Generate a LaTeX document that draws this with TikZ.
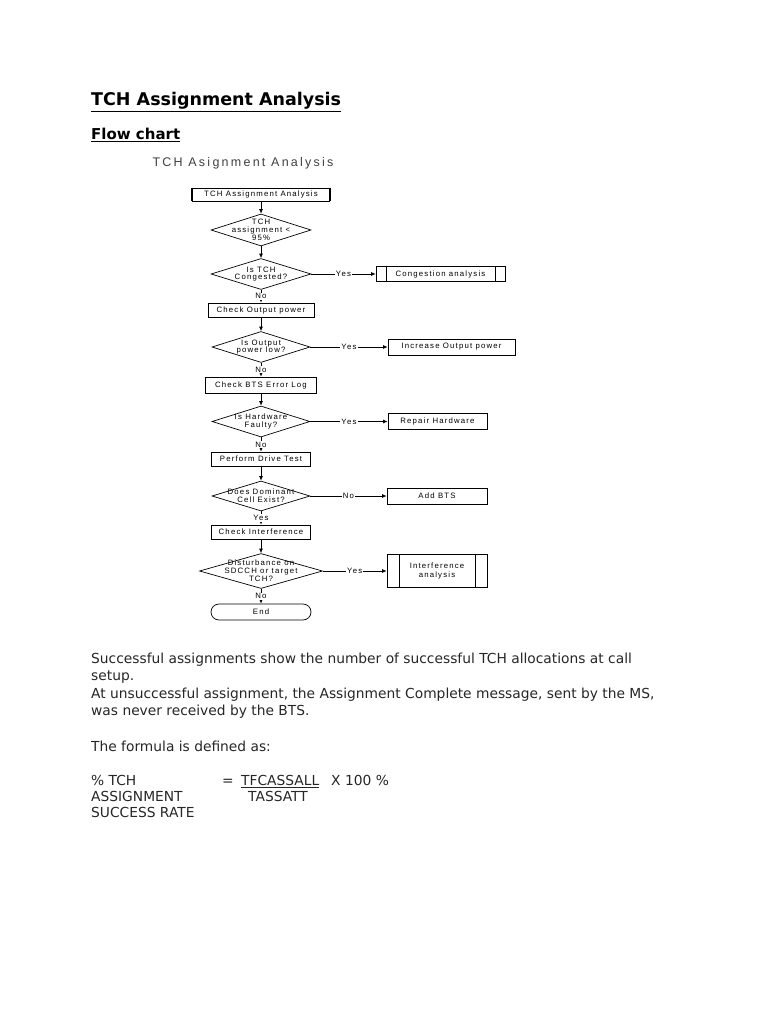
\documentclass[tikz,border=0pt]{standalone}
\usepackage{fontspec}
\setmainfont{DejaVu Sans}
\newfontfamily\chartfont[LetterSpace=15]{Liberation Sans}
\newfontfamily\charttitlefont[LetterSpace=18]{Liberation Sans}
\usepackage{tikz}
\usetikzlibrary{arrows.meta,shapes.geometric,shapes.misc}

\begin{document}
\begin{tikzpicture}[x=1pt, y=-1pt,
  procbox/.style={draw, line width=0.7pt, inner sep=0pt,
    font=\chartfont\fontsize{7.8}{8.4}\selectfont, align=center},
  decision/.style={draw, diamond, line width=0.7pt, inner sep=0pt},
  dectext/.style={inner sep=0pt, font=\chartfont\fontsize{7.8}{7.8}\selectfont, align=center},
  termbox/.style={draw, rounded rectangle, line width=0.7pt, inner sep=0pt,
    minimum width=100pt, minimum height=16pt, font=\chartfont\fontsize{7.8}{8.4}\selectfont},
  flow/.style={-{Latex[length=4.5pt,width=4pt]}, line width=0.7pt},
  yesno/.style={fill=white, inner sep=1pt, font=\chartfont\fontsize{7.8}{8.4}\selectfont},
  bodytext/.style={anchor=base west, inner sep=0pt, text=black!85,
    font=\fontsize{13.8}{17.5}\selectfont}]

\useasboundingbox (0,0) rectangle (768,1024);

% Headings
\node[anchor=base west, inner sep=0pt, font=\bfseries\fontsize{17.5}{20}\selectfont]
  (heading) at (91,106) {\underline{TCH Assignment Analysis}};
\node[anchor=base west, inner sep=0pt, font=\bfseries\fontsize{15}{18}\selectfont]
  (subheading) at (91,140) {\underline{Flow chart}};
\node[inner sep=0pt, text=black!75, font=\charttitlefont\fontsize{12.5}{14}\selectfont]
  (charttitle) at (243,163) {TCH Asignment Analysis};

% Start
\node[procbox, minimum width=137pt, minimum height=13pt] (start) at (261,194.5)
  {TCH Assignment Analysis};
\draw[line width=1.6pt] (start.north west) -- (start.south west);
\draw[line width=1.6pt] (start.north east) -- (start.south east);

% Decision 1
\node[decision, minimum width=100pt, minimum height=32pt,
  label={[dectext]center:{TCH\\assignment <\\95\%}}] (d1) at (261,230) {};

% Decision 2
\node[decision, minimum width=100pt, minimum height=31pt,
  label={[dectext]center:{Is TCH\\Congested?}}] (d2) at (261,274) {};
\node[procbox, minimum width=129pt, minimum height=15pt] (cong) at (440.5,274)
  {Congestion analysis};
\draw[line width=0.7pt] ([xshift=11pt]cong.north west) -- ([xshift=11pt]cong.south west);
\draw[line width=0.7pt] ([xshift=-10pt]cong.north east) -- ([xshift=-10pt]cong.south east);
\draw[line width=1.6pt] (cong.north east) -- (cong.south east);

% Output power
\node[procbox, minimum width=106pt, minimum height=14pt] (outpow) at (261,310)
  {Check Output power};
\node[decision, minimum width=98pt, minimum height=31pt,
  label={[dectext]center:{Is Output\\power low?}}] (d3) at (261,347) {};
\node[procbox, minimum width=127pt, minimum height=16pt] (incpow) at (451.5,347)
  {Increase Output power};

% Hardware
\node[procbox, minimum width=111pt, minimum height=16pt] (errlog) at (261,385)
  {Check BTS Error Log};
\node[decision, minimum width=98pt, minimum height=31pt,
  label={[dectext]center:{Is Hardware\\Faulty?}}] (d4) at (261,421.5) {};
\node[procbox, minimum width=99pt, minimum height=16pt] (repair) at (437.5,421.5)
  {Repair Hardware};

% Drive test
\node[procbox, minimum width=99pt, minimum height=14pt] (drive) at (261,459)
  {Perform Drive Test};
\node[decision, minimum width=98pt, minimum height=30pt,
  label={[dectext]center:{Does Dominant\\Cell Exist?}}] (d5) at (261,496) {};
\node[procbox, minimum width=100pt, minimum height=16pt] (addbts) at (437,496)
  {Add BTS};

% Interference
\node[procbox, minimum width=99pt, minimum height=14pt] (interf) at (261,532)
  {Check Interference};
\node[decision, minimum width=123pt, minimum height=35pt,
  label={[dectext]center:{Disturbance on\\SDCCH or target\\TCH?}}] (d6) at (261,571) {};
\node[procbox, minimum width=100pt, minimum height=33pt] (intana) at (437,571)
  {Interference\\analysis};
\draw[line width=0.7pt] ([xshift=13pt]intana.north west) -- ([xshift=13pt]intana.south west);
\draw[line width=1.6pt] ([xshift=-12pt]intana.north east) -- ([xshift=-12pt]intana.south east);

% End
\node[termbox] (stop) at (261,612) {End};

% Arrows
\draw[flow] (start.south) -- (d1.north);
\draw[flow] (d1.south) -- (d2.north);
\draw[flow] (d2.east) -- node[yesno]{Yes} (cong.west);
\draw[flow] (d2.south) -- node[yesno]{No} (outpow.north);
\draw[flow] (outpow.south) -- (d3.north);
\draw[flow] (d3.east) -- node[yesno]{Yes} (incpow.west);
\draw[flow] (d3.south) -- node[yesno]{No} (errlog.north);
\draw[flow] (errlog.south) -- (d4.north);
\draw[flow] (d4.east) -- node[yesno]{Yes} (repair.west);
\draw[flow] (d4.south) -- node[yesno]{No} (drive.north);
\draw[flow] (drive.south) -- (d5.north);
\draw[flow] (d5.east) -- node[yesno]{No} (addbts.west);
\draw[flow] (d5.south) -- node[yesno]{Yes} (interf.north);
\draw[flow] (interf.south) -- (d6.north);
\draw[flow] (d6.east) -- node[yesno]{Yes} (intana.west);
\draw[flow] (d6.south) -- node[yesno]{No} (stop.north);

% Description
\node[bodytext] (line1) at (91,663) {Successful assignments show the number of successful TCH allocations at call};
\node[bodytext] (line2) at (91,680.5) {setup.};
\node[bodytext] (line3) at (91,698) {At unsuccessful assignment, the Assignment Complete message, sent by the MS,};
\node[bodytext] (line4) at (91,715.5) {was never received by the BTS.};
\node[bodytext] (line5) at (91,751) {The formula is defined as:};

% Formula
\node[bodytext] (rate1) at (91,785.5) {\% TCH};
\node[bodytext] (rate2) at (91,801.5) {ASSIGNMENT};
\node[bodytext] (rate3) at (91,817.5) {SUCCESS RATE};
\node[bodytext] (equals) at (222,785.5) {=};
\node[bodytext] (numer) at (241,785.5) {\underline{TFCASSALL}};
\node[bodytext] (times) at (331,785.5) {X 100 \%};
\node[bodytext] (denom) at (248,801.5) {TASSATT};

\end{tikzpicture}
\end{document}
